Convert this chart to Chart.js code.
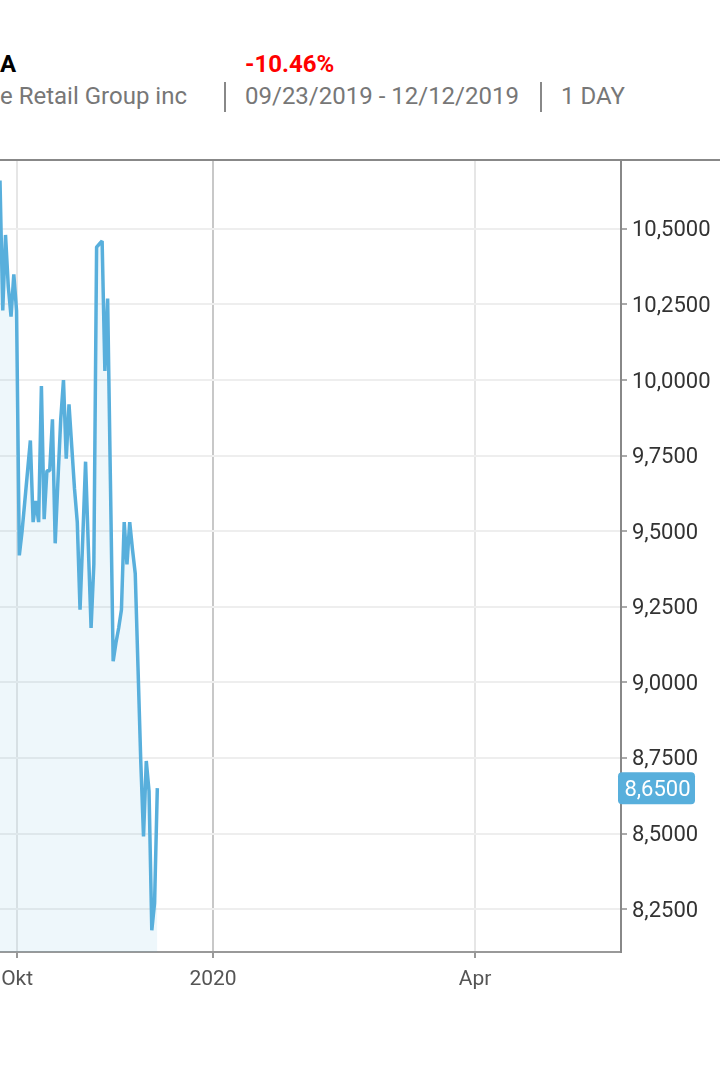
<!DOCTYPE html>
<html>
<head>
<meta charset="utf-8">
<script src="https://cdn.jsdelivr.net/npm/chart.js@4.4.1/dist/chart.umd.min.js"></script>
<style>
  html, body { margin: 0; padding: 0; background: #fff; }
  body { width: 720px; height: 1072px; position: relative; overflow: hidden; font-family: Roboto, sans-serif; }
  .hdr { position: absolute; white-space: nowrap; line-height: 1; }
  .sym { left: 0; top: 52px; font-size: 24px; font-weight: bold; color: #000; }
  .chg { left: 245px; top: 52px; font-size: 24px; font-weight: bold; color: #f00; }
  .sub { top: 84px; font-size: 24px; color: #777; }
  .sep { position: absolute; top: 82px; width: 2px; height: 30px; background: #888; }
  #wrap { position: absolute; left: 0; top: 0; width: 720px; height: 1072px; }
</style>
</head>
<body>
<div class="hdr sym">A</div>
<div class="hdr chg">-10.46%</div>
<div class="hdr sub" style="left:0">e Retail Group inc</div>
<div class="sep" style="left:224px"></div>
<div class="hdr sub" style="left:245px">09/23/2019 - 12/12/2019</div>
<div class="sep" style="left:540px"></div>
<div class="hdr sub" style="left:561px">1 DAY</div>
<div id="wrap"><canvas id="chart"></canvas></div>
<script>
// daily closes, 09/23/2019 - 12/12/2019 (one per trading day)
const closes = [
  10.66, 10.23, 10.48, 10.31, 10.21, 10.35, 10.23, 9.42, 9.50, 9.60,
  9.70, 9.80, 9.53, 9.60, 9.53, 9.98, 9.54, 9.70, 9.70, 9.87,
  9.46, 9.67, 9.87, 10.00, 9.74, 9.92, 9.78, 9.64, 9.53, 9.24,
  9.48, 9.73, 9.45, 9.18, 9.39, 10.44, 10.45, 10.46, 10.03, 10.27,
  9.67, 9.07, 9.13, 9.18, 9.24, 9.53, 9.39, 9.53, 9.44, 9.36,
  9.05, 8.74, 8.49, 8.74, 8.64, 8.18, 8.27, 8.65
];

// x axis labels and where they sit, in trading-day units
const xTickLabels = ['Okt', '2020', 'Apr'];
const xTickPos = [6.2, 77.2, 172.1];

const yTickValues = [8.25, 8.5, 8.75, 9.0, 9.25, 9.5, 9.75, 10.0, 10.25, 10.5];

const lineColor = '#58afdc';
const fillColor = 'rgba(88, 175, 220, 0.1)';

const fmt = v => v.toFixed(4).replace('.', ',');

const extras = {
    id: 'extras',
    afterDraw(chart) {
        const { ctx, chartArea } = chart;
        ctx.save();
        // top frame line across the whole width
        ctx.strokeStyle = '#888';
        ctx.lineWidth = 2;
        ctx.beginPath();
        ctx.moveTo(0, chartArea.top);
        ctx.lineTo(chart.width, chartArea.top);
        ctx.stroke();

        // last value badge on the price axis
        const last = closes[closes.length - 1];
        const y = chart.scales.y.getPixelForValue(last);
        const w = 77, h = 32, x = chartArea.right - 3;
        ctx.fillStyle = lineColor;
        ctx.beginPath();
        ctx.roundRect(x, y - h / 2, w, h, 4);
        ctx.fill();
        ctx.fillStyle = '#fff';
        ctx.font = '22px Roboto';
        ctx.textAlign = 'center';
        ctx.textBaseline = 'middle';
        ctx.fillText(fmt(last), x + w / 2 + 1, y + 2);
        ctx.restore();
    }
};

const ctx = document.getElementById('chart').getContext('2d');
new Chart(ctx, {
    type: 'line',
    data: {
        datasets: [{
            data: closes.map((v, i) => ({ x: i, y: v })),
            borderColor: lineColor,
            borderWidth: 3.5,
            backgroundColor: fillColor,
            fill: 'start',
            pointRadius: 0,
            tension: 0,
            borderJoinStyle: 'bevel'
        }]
    },
    options: {
        responsive: true,
        maintainAspectRatio: false,
        animation: false,
        layout: { padding: { top: 160, left: 0, right: 0, bottom: 0 } },
        plugins: {
            legend: { display: false },
            tooltip: { enabled: false }
        },
        scales: {
            x: {
                type: 'linear',
                min: 0,
                max: 225,
                afterBuildTicks: s => { s.ticks = xTickPos.map(v => ({ value: v })); },
                afterFit: s => {
                    s.height = 120;
                    s.paddingLeft = 0;
                    s.paddingRight = 0;
                },
                grid: {
                    color: c => (c.tick && c.tick.label === '2020') ? '#c8c8c8' : '#e6e6e6',
                    lineWidth: 2,
                    tickLength: 6,
                    tickColor: '#999'
                },
                border: { color: '#999', width: 2 },
                ticks: {
                    autoSkip: false,
                    maxRotation: 0,
                    padding: 9,
                    color: '#555',
                    font: { family: 'Roboto', size: 21 },
                    callback: (v, i) => xTickLabels[i]
                }
            },
            y: {
                type: 'linear',
                position: 'right',
                min: 8.108,
                max: 10.728,
                afterBuildTicks: s => { s.ticks = yTickValues.map(v => ({ value: v })); },
                afterFit: s => { s.width = 99; },
                grid: {
                    color: '#eeeeee',
                    lineWidth: 2,
                    tickLength: 6,
                    tickColor: '#aaa'
                },
                border: { color: '#888', width: 2 },
                ticks: {
                    padding: 5,
                    labelOffset: 2,
                    color: '#333',
                    font: { family: 'Roboto', size: 22 },
                    callback: v => fmt(v)
                }
            }
        }
    },
    plugins: [extras]
});
</script>
</body>
</html>
